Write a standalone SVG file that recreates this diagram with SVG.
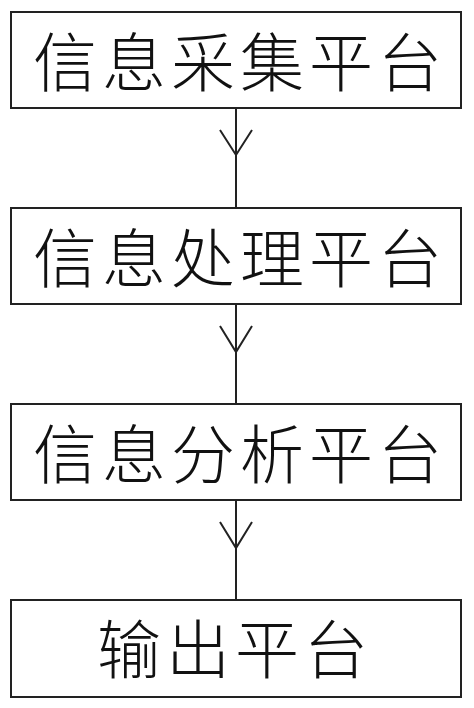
<svg xmlns="http://www.w3.org/2000/svg" width="474" height="708" viewBox="0 0 474 708">
<style>
.box{fill:#fff;stroke:#222;stroke-width:2}
.lbl{font-family:"Noto Sans CJK SC","Noto Sans CJK JP",sans-serif;font-size:64px;font-weight:300;fill:#111;letter-spacing:5px;dominant-baseline:central}
.conn line,.conn polyline{stroke:#222;stroke-width:2;fill:none}
</style>
<rect width="474" height="708" fill="#fff"/>
<g id="n1"><rect class="box" x="11" y="12" width="450" height="96"/><text class="lbl" x="33" y="58">信息采集平台</text></g>
<g id="n2"><rect class="box" x="11" y="208" width="450" height="96"/><text class="lbl" x="33" y="254">信息处理平台</text></g>
<g id="n3"><rect class="box" x="11" y="404" width="450" height="96"/><text class="lbl" x="33" y="450">信息分析平台</text></g>
<g id="n4"><rect class="box" x="11" y="600" width="450" height="97"/><text class="lbl" x="97" y="645">输出平台</text></g>
<g class="conn">
<line x1="236" y1="108" x2="236" y2="208"/><polyline points="220,130 236,155 252,130"/>
<line x1="236" y1="304" x2="236" y2="404"/><polyline points="220,326 236,352 252,326"/>
<line x1="236" y1="500" x2="236" y2="600"/><polyline points="220,522 236,548 252,522"/>
</g>
</svg>
